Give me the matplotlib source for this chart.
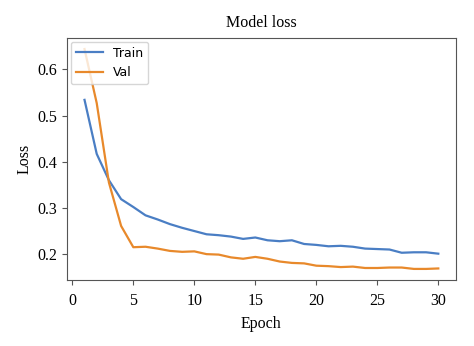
import matplotlib
matplotlib.use("Agg")
import matplotlib.pyplot as plt

epochs = list(range(1, 31))
train_loss = [0.534, 0.417, 0.360, 0.319, 0.302, 0.284, 0.275, 0.265, 0.257, 0.250,
              0.243, 0.241, 0.238, 0.233, 0.236, 0.230, 0.228, 0.230, 0.222, 0.220,
              0.217, 0.218, 0.216, 0.212, 0.211, 0.210, 0.203, 0.204, 0.204, 0.201]
val_loss = [0.644, 0.527, 0.355, 0.261, 0.215, 0.216, 0.212, 0.207, 0.205, 0.206,
            0.200, 0.199, 0.193, 0.190, 0.194, 0.190, 0.184, 0.181, 0.180, 0.175,
            0.174, 0.172, 0.173, 0.170, 0.170, 0.171, 0.171, 0.168, 0.168, 0.169]

serif = ["Liberation Serif", "DejaVu Serif"]

fig = plt.figure(figsize=(4.74, 3.46), dpi=100)
ax = fig.add_axes([0.141, 0.191, 0.821, 0.699])
ax.plot(epochs, train_loss, color="#4a7ec4", lw=1.6, label="Train")
ax.plot(epochs, val_loss, color="#e8892b", lw=1.6, label="Val")

ax.set_title("Model loss", fontfamily=serif, fontsize=11.5, pad=8)
ax.set_xlabel("Epoch", fontfamily=serif, fontsize=11.5, labelpad=5)
ax.set_ylabel("Loss", fontfamily=serif, fontsize=11.5, labelpad=3)
ax.set_xticks([0, 5, 10, 15, 20, 25, 30])
ax.set_yticks([0.2, 0.3, 0.4, 0.5, 0.6])
for lab in ax.get_xticklabels() + ax.get_yticklabels():
    lab.set_fontfamily(serif)
    lab.set_fontsize(11.5)
for s in ax.spines.values():
    s.set_color("#555555")
ax.tick_params(color="#555555", length=3.5)
ax.tick_params(axis="x", pad=6)
leg = ax.legend(loc="upper left", fontsize=9, borderaxespad=0.3, handlelength=2.2)
fig.savefig("out.png", dpi=100)
